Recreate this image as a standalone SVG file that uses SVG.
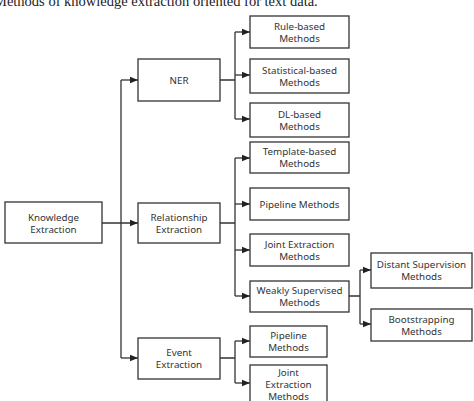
<svg xmlns="http://www.w3.org/2000/svg" width="474" height="401" viewBox="0 0 474 401">
<defs>
<marker id="ah" markerUnits="userSpaceOnUse" markerWidth="8" markerHeight="8" viewBox="0 0 8 8" refX="8" refY="4" orient="auto">
<path d="M0,0.8 L8,4 L0,7.2 Z" fill="#222"/>
</marker>
</defs>
<style>
.box{fill:#fff;stroke:#333;stroke-width:1.3}
.t{font-family:"Noto Sans","Open Sans",sans-serif;font-size:9.8px;fill:#333;text-anchor:middle}
.c{fill:none;stroke:#333;stroke-width:1.3}
.a{fill:none;stroke:#333;stroke-width:1.3;marker-end:url(#ah)}
</style>
<rect width="474" height="401" fill="#fff"/>
<text x="-6" y="6" font-family="Liberation Serif, serif" font-size="14.5" fill="#222">Methods of knowledge extraction oriented for text data.</text>
<g id="connectors">
<path class="a" d="M102,223 H138"/>
<path class="c" d="M121,80 V358"/>
<path class="a" d="M121,80 H138"/>
<path class="a" d="M121,358 H138"/>
<path class="c" d="M220,80 H235 M235,32 V119"/>
<path class="a" d="M235,32 H250"/>
<path class="a" d="M235,75 H250"/>
<path class="a" d="M235,119 H250"/>
<path class="c" d="M220,223 H235 M235,158 V296"/>
<path class="a" d="M235,158 H250"/>
<path class="a" d="M235,204 H250"/>
<path class="a" d="M235,250 H250"/>
<path class="a" d="M235,296 H250"/>
<path class="c" d="M349,296 H360 M360,270 V324"/>
<path class="a" d="M360,270 H371"/>
<path class="a" d="M360,324 H371"/>
<path class="c" d="M220,358 H235 M235,341 V383"/>
<path class="a" d="M235,341 H250"/>
<path class="a" d="M235,383 H250"/>
</g>
<g id="knowledge-extraction"><rect class="box" x="5" y="202" width="97" height="41"/><text class="t" x="53.5" y="220.5">Knowledge</text><text class="t" x="53.5" y="232.5">Extraction</text></g>
<g id="ner"><rect class="box" x="138" y="59" width="82" height="42"/><text class="t" x="179" y="83.5">NER</text></g>
<g id="relationship-extraction"><rect class="box" x="138" y="203" width="82" height="40"/><text class="t" x="179" y="220.5">Relationship</text><text class="t" x="179" y="232.5">Extraction</text></g>
<g id="event-extraction"><rect class="box" x="138" y="338" width="82" height="41"/><text class="t" x="179" y="356">Event</text><text class="t" x="179" y="368">Extraction</text></g>
<g id="rule-based"><rect class="box" x="250" y="16" width="99" height="32"/><text class="t" x="299.5" y="29.5">Rule-based</text><text class="t" x="299.5" y="41.5">Methods</text></g>
<g id="statistical-based"><rect class="box" x="250" y="59" width="99" height="34"/><text class="t" x="299.5" y="73.5">Statistical-based</text><text class="t" x="299.5" y="85.5">Methods</text></g>
<g id="dl-based"><rect class="box" x="250" y="103" width="99" height="34"/><text class="t" x="299.5" y="117.5">DL-based</text><text class="t" x="299.5" y="129.5">Methods</text></g>
<g id="template-based"><rect class="box" x="250" y="142" width="99" height="31"/><text class="t" x="299.5" y="155">Template-based</text><text class="t" x="299.5" y="167">Methods</text></g>
<g id="pipeline-methods"><rect class="box" x="250" y="188" width="99" height="32"/><text class="t" x="299.5" y="207.5">Pipeline Methods</text></g>
<g id="joint-extraction"><rect class="box" x="250" y="234" width="99" height="32"/><text class="t" x="299.5" y="247.5">Joint Extraction</text><text class="t" x="299.5" y="259.5">Methods</text></g>
<g id="weakly-supervised"><rect class="box" x="250" y="281" width="99" height="31"/><text class="t" x="299.5" y="294">Weakly Supervised</text><text class="t" x="299.5" y="306">Methods</text></g>
<g id="distant-supervision"><rect class="box" x="371" y="253" width="101" height="35"/><text class="t" x="421.5" y="268">Distant Supervision</text><text class="t" x="421.5" y="280">Methods</text></g>
<g id="bootstrapping"><rect class="box" x="371" y="309" width="101" height="32"/><text class="t" x="421.5" y="322.5">Bootstrapping</text><text class="t" x="421.5" y="334.5">Methods</text></g>
<g id="event-pipeline"><rect class="box" x="250" y="326" width="77" height="31"/><text class="t" x="288.5" y="339">Pipeline</text><text class="t" x="288.5" y="351">Methods</text></g>
<g id="event-joint"><rect class="box" x="250" y="365" width="77" height="45"/><text class="t" x="288.5" y="375.5">Joint</text><text class="t" x="288.5" y="387.5">Extraction</text><text class="t" x="288.5" y="399.5">Methods</text></g>
</svg>
